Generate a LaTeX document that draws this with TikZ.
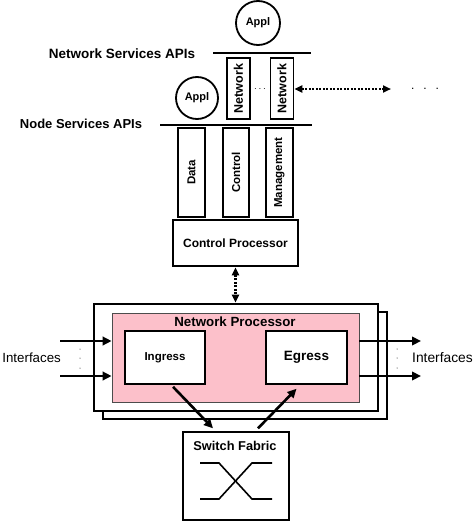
\documentclass[tikz,border=0pt]{standalone}
\usepackage{fontspec}
\setmainfont{Liberation Sans}
\usetikzlibrary{arrows.meta}

\definecolor{npPink}{RGB}{252,192,202}

\begin{document}
\begin{tikzpicture}[x=1pt,y=-1pt,
        box/.style={draw, line width=1.6pt, fill=white, inner sep=0pt, font=\bfseries\fontsize{11.5}{13}\selectfont},
        apibar/.style={line width=2.4pt},
        flow/.style={line width=2.6pt, -{Triangle[length=9pt,width=8.5pt]}},
        link/.style={line width=2.2pt, dash pattern=on 2pt off 1.5pt,
                     {Triangle[length=8pt,width=7pt]}-{Triangle[length=8pt,width=7pt]}},
        appl/.style={draw, circle, line width=1.8pt, fill=white, inner sep=0pt, font=\bfseries\fontsize{11}{13}\selectfont},
        label/.style={font=\bfseries\fontsize{13.5}{15}\selectfont, inner sep=0pt}
    ]
        \useasboundingbox (0,0) rectangle (474,522);

        %Network services layer
        \node [appl, minimum size=44pt] (applTop) at (258,23)   {Appl};
        \node [label] (netApiText) at (122,54)                  {Network Services APIs};
        \draw [apibar]              (213,53) -- (311,53);
        \node [box, rotate=90, minimum width=61pt, minimum height=23pt,
               font=\bfseries\fontsize{12.5}{14}\selectfont] (net1) at (238.5,88.5) {Network};
        \node [box, rotate=90, minimum width=61pt, minimum height=23pt,
               font=\bfseries\fontsize{12.5}{14}\selectfont] (net2) at (282,88.5)   {Network};
        \node [font=\fontsize{10}{12}\selectfont] (netDots) at (260,89) {$\cdots$};

        %Link to other nodes
        \coordinate (farEnd) at (391,89);
        \draw [link]                (net2.south |- farEnd) -- (farEnd);
        \node [font=\fontsize{12}{14}\selectfont] (farDots) at (425,89) {.\hspace{9pt}.\hspace{9pt}.};

        %Node services layer
        \node [appl, minimum size=42pt] (applLow) at (197,98)   {Appl};
        \node [label, font=\bfseries\fontsize{13}{15}\selectfont] (nodeApiText) at (81,124) {Node Services APIs};
        \draw [apibar]              (160,125) -- (312,125);
        \node [box, rotate=90, minimum width=89pt, minimum height=27pt] (data) at (191.5,172.5) {Data};
        \node [box, rotate=90, minimum width=89pt, minimum height=26pt] (ctrl) at (236,172.5)   {Control};
        \node [box, rotate=90, minimum width=89pt, minimum height=27pt] (mgmt) at (279.5,172.5) {Management};

        %Control processor
        \node [box, line width=2.6pt, minimum width=125pt, minimum height=46pt,
               font=\bfseries\fontsize{12}{14}\selectfont] (cp) at (235.5,243) {Control Processor};

        %Network processor cards
        \draw [line width=2.6pt, fill=white] (103,312) rectangle (387,419);
        \node [draw, line width=2.6pt, fill=white, minimum width=284pt, minimum height=107pt] (card) at (236,357.5) {};
        \node [draw=black!70, line width=0.8pt, fill=npPink, minimum width=247pt, minimum height=89pt] (np) at (235.5,357.5) {};
        \node [label, font=\bfseries\fontsize{13.3}{15}\selectfont] (npText) at (235,322) {Network Processor};
        \node [box, minimum width=80pt, minimum height=53pt] (ingress) at (165,357.5) {Ingress};
        \node [box, minimum width=81pt, minimum height=53pt,
               font=\bfseries\fontsize{13.5}{15}\selectfont] (egress) at (306.5,357.5) {Egress};

        \draw [link]                (cp.south) -- (cp.south |- card.north);

        %Interfaces
        \coordinate (inA)  at (60,341);
        \coordinate (inB)  at (60,376);
        \coordinate (outA) at (421,341);
        \coordinate (outB) at (421,376);
        \draw [flow]                (inA) -- (inA -| np.west);
        \draw [flow]                (inB) -- (inB -| np.west);
        \draw [flow]                (outA -| np.east) -- (outA);
        \draw [flow]                (outB -| np.east) -- (outB);
        \node [anchor=east, font=\fontsize{13.3}{15}\selectfont, inner sep=0pt] (ifLeft)  at (61,358)  {Interfaces};
        \node [anchor=west, font=\fontsize{13.8}{16}\selectfont, inner sep=0pt] (ifRight) at (412,358) {Interfaces};
        \foreach \yy in {349,358,368} {
            \fill (80,\yy) circle (0.5pt);
            \fill (397,\yy) circle (0.5pt);
        }

        %Switch fabric
        \node [box, line width=1.4pt, minimum width=106pt, minimum height=88pt] (sf) at (236,476) {};
        \node [font=\bfseries\fontsize{12.8}{14}\selectfont] (sfText) at (235,446) {Switch Fabric};
        \draw [line width=1.6pt]    (200,463) -- (219,463) -- (252,499) -- (272,499);
        \draw [line width=1.6pt]    (200,499) -- (219,499) -- (252,463) -- (272,463);

        \draw [flow]                ([shift={(8,2)}]ingress.south)  -- ([shift={(-23,-3)}]sf.north);
        \draw [flow]                ([shift={(22,-3)}]sf.north)     -- ([shift={(-10,4)}]egress.south);

      \end{tikzpicture}
\end{document}
